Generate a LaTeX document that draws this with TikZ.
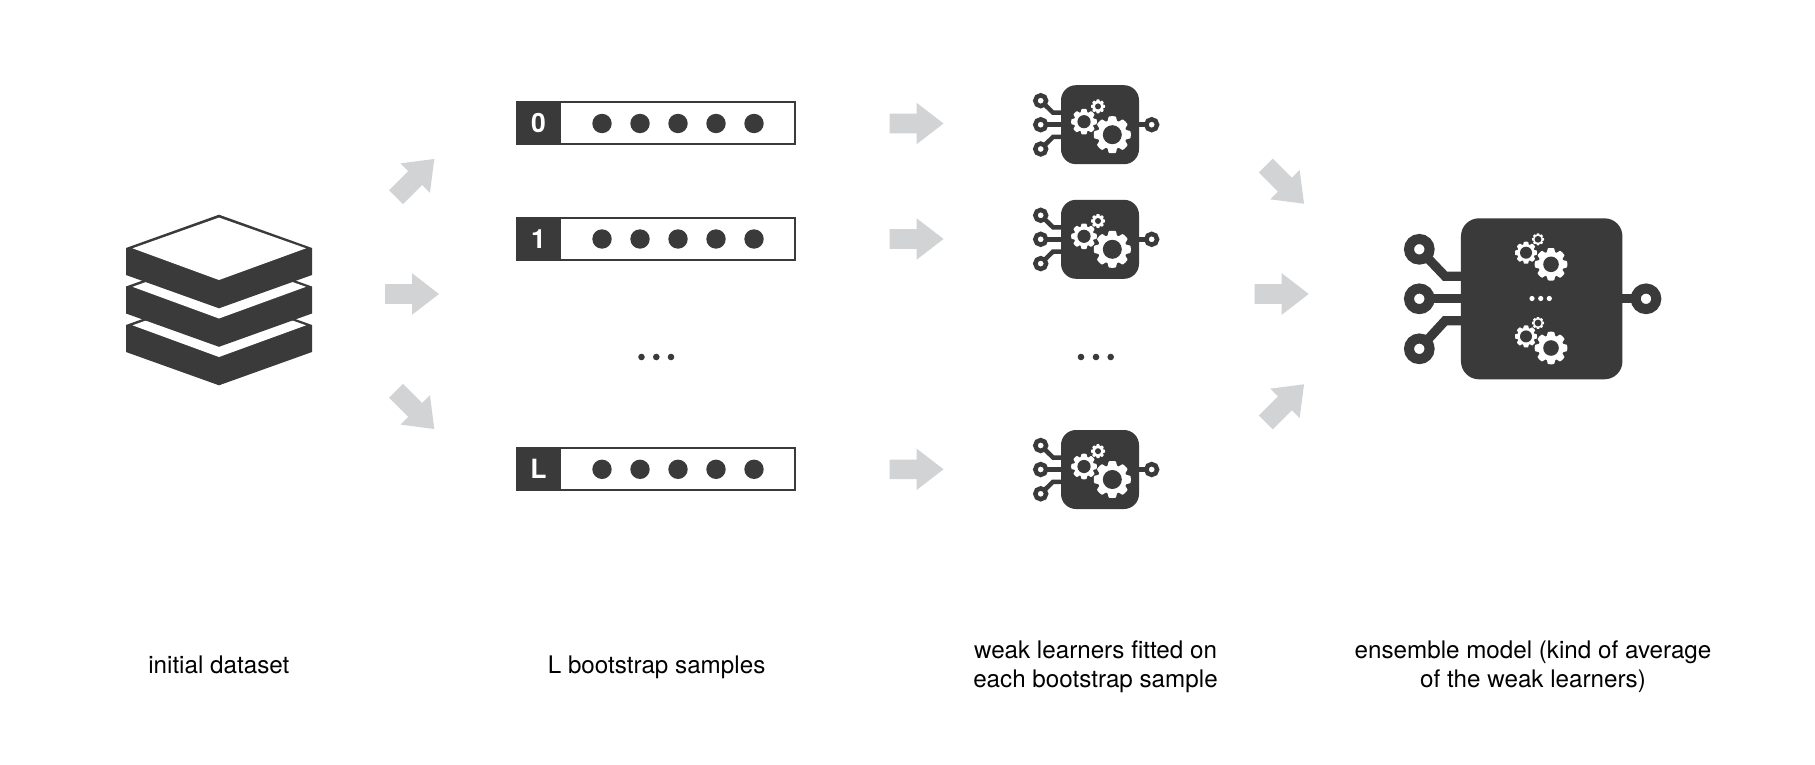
\documentclass[tikz,border=0pt]{standalone}
\usepackage{fontspec}
\setmainfont{TeX Gyre Heros}
\definecolor{ink}{HTML}{3A3A3A}
\definecolor{arrowgrey}{HTML}{D1D3D4}
\tikzset{
  label text/.style={font=\fontsize{24.2}{29}\selectfont,text=black,align=center,anchor=base,inner sep=0pt},
  index text/.style={font=\bfseries\fontsize{26.5}{29}\selectfont,text=white,inner sep=0pt},
  row frame/.style={draw=ink,line width=2pt,fill=white},
  wire small/.style={draw=ink,line width=4.5pt},
  ring small/.style={draw=ink,line width=4.5pt,fill=white},
  wire big/.style={draw=ink,line width=9.3pt},
  ring big/.style={draw=ink,line width=10pt,fill=white},
}
% block arrow: tip position and heading
\newcommand{\blockarrow}[3]{%
  \fill[arrowgrey,shift={(#1,#2)},rotate=#3]
    (0,0) -- (-27,20.8) -- (-27,9.8) -- (-54,9.8) -- (-54,-9.8) -- (-27,-9.8) -- (-27,-20.8) -- cycle;}
% one stack layer, vertical offset
\newcommand{\stacklayer}[1]{%
  \begin{scope}[yshift=-#1pt]
    \fill[ink] (126,248) -- (219,214.7) -- (312,248) -- (312,275) -- (219,308.3) -- (126,275) -- cycle;
    \fill[white] (132.5,248.3) -- (219,217.6) -- (306,248.3) -- (219,280) -- cycle;
  \end{scope}}
% gear: x, y, outer radius, hole radius
\newcommand{\cog}[4]{%
  \fill[white,shift={(#1,#2)}] plot[domain=0:360,samples=121,variable=\t]
    (\t:{#3*(0.89+0.11*max(-1,min(1,2.2*cos(8*\t)+1)))}) -- cycle;
  \fill[ink] (#1,#2) circle[radius=#4];}
% data row: name, y, index text
\newcommand{\datarow}[3]{%
  \node[row frame,minimum width=278pt,minimum height=42pt,inner sep=0pt] (#1) at (656.2,#2) {};
  \fill[ink] (516,#2-21.9) rectangle (561,#2+21.9);
  \node[index text] (#1i) at (538.5,#2) {#3};
  \foreach \dx in {602,640,678,716,754}
    \fill[ink] (\dx,#2) circle[radius=9.7];}
% small learner icon centred on x,y
\newcommand{\learner}[3]{%
  \begin{scope}[shift={(#2,#3)}]
    \node[fill=ink,draw=none,rounded corners=15pt,minimum width=78pt,minimum height=79pt,inner sep=0pt] (#1) at (0,0) {};
    \coordinate (#1a) at (-59.3,-24);
    \coordinate (#1b) at (-59.3,0);
    \coordinate (#1c) at (-59.3,24.3);
    \coordinate (#1d) at (51.7,0);
    \draw[wire small] (#1a) -- (-47,-12) -- (-35,-12);
    \draw[wire small] (#1b) -- (-35,0);
    \draw[wire small] (#1c) -- (-47,12.3) -- (-35,12.3);
    \draw[wire small] (#1d) -- (35,0);
    \foreach \c in {a,b,c,d} \draw[ring small] (#1\c) circle[radius=5.4];
    \cog{-2}{-18.3}{7}{3}
    \cog{-16}{-3}{12.8}{6.6}
    \cog{12.3}{10}{18.5}{9.5}
  \end{scope}}
\begin{document}
\begin{tikzpicture}[x=1pt,y=-1pt]
\useasboundingbox (0,0) rectangle (1815,765);
\fill[white] (0,0) rectangle (1815,765);

% initial dataset
\stacklayer{77}
\stacklayer{38.5}
\stacklayer{0}

% left arrows
\blockarrow{434.3}{159}{45}
\blockarrow{439}{294}{0}
\blockarrow{434.3}{429}{-45}

% bootstrap samples
\datarow{rowa}{123.5}{0}
\datarow{rowb}{239}{1}
\datarow{rowc}{469.3}{L}
\foreach \dx in {641.5,656.3,671}
  \fill[ink] (\dx,357) circle[radius=3.3];

% row arrows
\blockarrow{943.5}{123.5}{0}
\blockarrow{943.5}{239}{0}
\blockarrow{943.5}{469.3}{0}

% weak learners
\learner{la}{1100}{124.7}
\learner{lb}{1100}{239.3}
\learner{lc}{1100}{469.5}
\foreach \dx in {1081,1096,1110.7}
  \fill[ink] (\dx,357) circle[radius=3.3];

% right arrows
\blockarrow{1304}{203.7}{-45}
\blockarrow{1308.7}{294}{0}
\blockarrow{1304}{384.3}{45}

% ensemble model
\begin{scope}[shift={(1541.7,298.8)}]
  \node[fill=ink,draw=none,rounded corners=18pt,minimum width=161.5pt,minimum height=161pt,inner sep=0pt] (model) at (0,0) {};
  \coordinate (ma) at (-122.4,-49.5);
  \coordinate (mb) at (-122.4,0);
  \coordinate (mc) at (-122.4,50);
  \coordinate (md) at (104.3,0);
  \draw[wire big] (ma) -- (-96.7,-22.6) -- (-75,-22.6);
  \draw[wire big] (mb) -- (-75,0);
  \draw[wire big] (mc) -- (-96.7,22) -- (-75,22);
  \draw[wire big] (md) -- (75,0);
  \foreach \c in {a,b,c,d} \draw[ring big] (m\c) circle[radius=10.3];
  \cog{-3.7}{-59.5}{6}{3.4}
  \cog{-15.7}{-46.1}{11}{6}
  \cog{9.3}{-34.5}{16.3}{7.8}
  \cog{-3.7}{24.2}{6}{3.4}
  \cog{-15.7}{37.6}{11}{6}
  \cog{9.3}{49.2}{16.3}{7.8}
  \foreach \dx in {-9.7,-1,7.6}
    \fill[white] (\dx,-0.3) circle[radius=2.6];
\end{scope}

% captions
\node[label text] (capa) at (218.8,673) {initial dataset};
\node[label text] (capb) at (656.6,673) {L bootstrap samples};
\node[label text] (capc) at (1095.5,687) {weak learners fitted on\\each bootstrap sample};
\node[label text] (capd) at (1533,687) {ensemble model (kind of average\\of the weak learners)};
\end{tikzpicture}
\end{document}
